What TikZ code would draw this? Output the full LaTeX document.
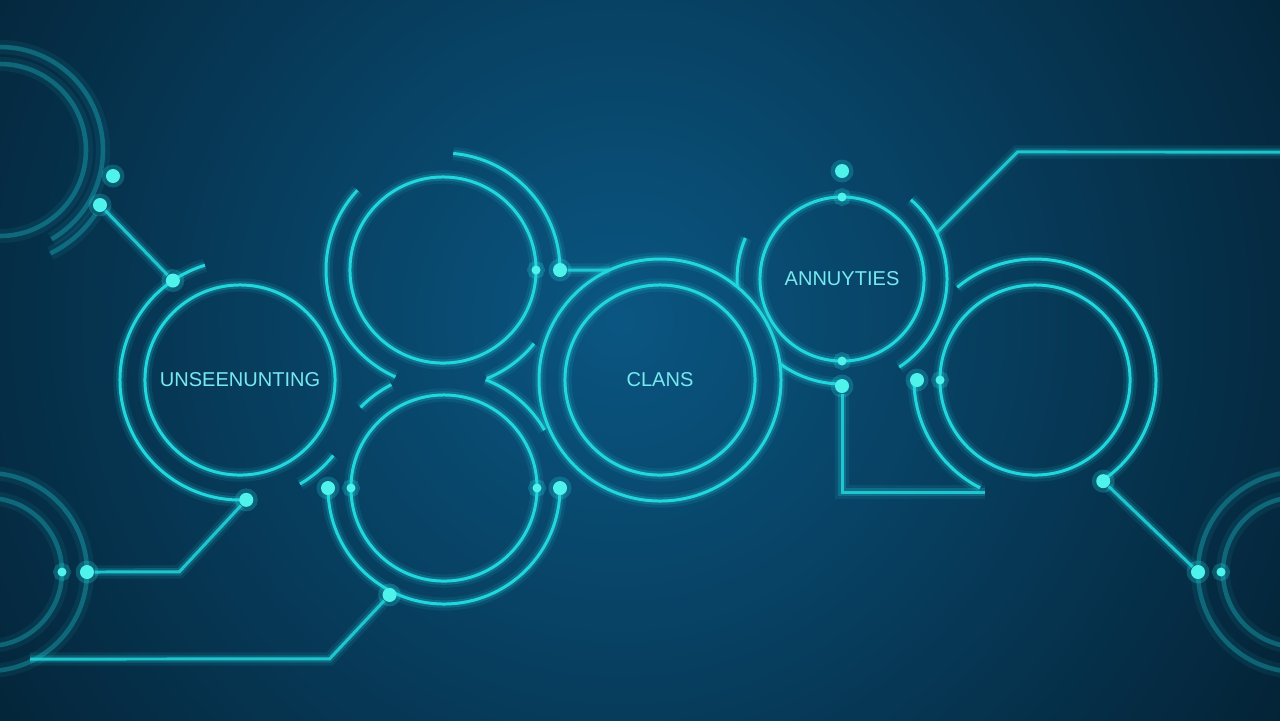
\documentclass[tikz,border=0pt]{standalone}
\usepackage{fontspec}
\usepackage{tikz}
\newfontfamily\labelfont{Liberation Sans}
\definecolor{neon}{RGB}{34,214,222}
\definecolor{neonhot}{RGB}{80,242,236}
\definecolor{labelcyan}{RGB}{120,232,240}
\definecolor{bgdeep}{RGB}{3,28,44}
\definecolor{bgmid}{RGB}{10,86,130}
\tikzset{
    glow/.style={draw=neon, line width=0.85pt,
        preaction={draw=neon, line width=3.8pt, opacity=0.10},
        preaction={draw=neon, line width=2.1pt, opacity=0.22}},
    ring/.style={circle, glow, inner sep=0pt, text=labelcyan,
        font=\labelfont\fontsize{5.7}{6}\selectfont},
    faint/.style={draw=neon, line width=1.3pt, opacity=0.3,
        preaction={draw=neon, line width=4pt, opacity=0.08}},
    wire/.style={glow, opacity=0.85},
    bigdot/.style={circle, fill=neonhot, inner sep=0pt, minimum size=0.14cm,
        preaction={draw=neon, line width=2.5pt, opacity=0.25}},
    smalldot/.style={bigdot, minimum size=0.09cm}
}
\newcommand{\ringArc}[4]{
    \draw[glow] (#1.center) ++(#2:#4) arc[start angle=#2, end angle=#3, radius=#4]
}
\newcommand{\faintArc}[5]{
    \draw[faint] (#1,#2) ++(#3:#5) arc[start angle=#3, end angle=#4, radius=#5]
}
\begin{document}
\begin{tikzpicture}[x=0.01cm, y=-0.01cm]
            \useasboundingbox (0,0) rectangle (1280,720);
            \clip (0,0) rectangle (1280,720);
            \fill[bgdeep] (0,0) rectangle (1280,720);
            \shade[inner color=bgmid, outer color=bgdeep] (620,320) circle (880);

            \draw[faint] (0,150) circle (86);
            \faintArc{0}{150}{-90}{60}{103};
            \faintArc{0}{150}{34}{64}{115};
            \draw[faint] (-12,572) circle (74);
            \draw[faint] (-12,572) circle (99);
            \draw[faint] (1298,572) circle (75);
            \draw[faint] (1298,572) circle (100);

            \node[ring, minimum size=1.9cm] (unseen) at (240,380) {UNSEENUNTING};
            \node[ring, minimum size=1.86cm] (topc) at (443,270) {};
            \node[ring, minimum size=1.86cm] (botc) at (444,488) {};
            \node[ring, minimum size=1.9cm] (clans) at (660,380) {CLANS};
            \node[ring, minimum size=1.64cm] (annu) at (842,279) {ANNUYTIES};
            \node[ring, minimum size=1.9cm] (rightc) at (1035,380) {};

            \ringArc{unseen}{-107}{-273}{120};
            \ringArc{unseen}{60}{39}{120};
            \ringArc{topc}{-85}{0}{117};
            \ringArc{topc}{-137}{-246}{117};
            \ringArc{topc}{39}{68}{117};
            \ringArc{botc}{180}{0}{116};
            \ringArc{botc}{-117}{-136}{116};
            \ringArc{botc}{-69}{-30}{116};
            \draw[glow] (clans.center) circle (121);
            \ringArc{annu}{-157}{-184.3}{105};
            \ringArc{annu}{126.2}{90}{105};
            \ringArc{annu}{-49}{57}{105};
            \ringArc{rightc}{-130}{56}{121};
            \ringArc{rightc}{180}{117}{121};

            \coordinate (leftEnd) at (30,659);
            \coordinate (clansNW) at ([shift={(-114.6:121)}]clans.center);
            \coordinate (annuNE) at ([shift={(-26:105)}]annu.center);
            \coordinate (topEnd) at (1280,152);
            \coordinate (midEnd) at (985,492);

            \node[bigdot] (tlA) at (113,176) {};
            \node[bigdot] (tlB) at (100,205) {};
            \node[smalldot] (blIn) at (62,572) {};
            \node[bigdot] (blOut) at (87,572) {};
            \node[bigdot] (brOut) at (1198,572) {};
            \node[smalldot] (brIn) at (1221,572) {};
            \node[bigdot] (uNW) at ([shift={(-124:120)}]unseen.center) {};
            \node[bigdot] (uS) at ([shift={(87:120)}]unseen.center) {};
            \node[smalldot] (tIn) at ([shift={(0:93)}]topc.center) {};
            \node[bigdot] (tOut) at ([shift={(0:117)}]topc.center) {};
            \node[smalldot] (bWi) at ([shift={(180:93)}]botc.center) {};
            \node[bigdot] (bWo) at ([shift={(180:116)}]botc.center) {};
            \node[smalldot] (bEi) at ([shift={(0:93)}]botc.center) {};
            \node[bigdot] (bEo) at ([shift={(0:116)}]botc.center) {};
            \node[bigdot] (bS) at ([shift={(117:120)}]botc.center) {};
            \node[bigdot] (aNo) at ([shift={(-90:108)}]annu.center) {};
            \node[smalldot] (aNi) at ([shift={(-90:82)}]annu.center) {};
            \node[smalldot] (aSi) at ([shift={(90:82)}]annu.center) {};
            \node[bigdot] (aSo) at ([shift={(90:107)}]annu.center) {};
            \node[bigdot] (rWo) at ([shift={(180:118)}]rightc.center) {};
            \node[smalldot] (rWi) at ([shift={(180:95)}]rightc.center) {};
            \node[bigdot] (rSE) at ([shift={(56:122)}]rightc.center) {};

            \draw[wire] (tlB) -- (uNW);
            \draw[wire] (uS) -- ++(-67,72) -- (blOut);
            \draw[wire] (bS) -- ++(-60,64) -- (leftEnd);
            \draw[wire] (tOut) -- (clansNW);
            \draw[wire] (annuNE) -- ++(81,-81) -- (topEnd);
            \draw[wire] (aSo) |- (midEnd);
            \draw[wire] (rSE) -- (brOut);
        \end{tikzpicture}
\end{document}
